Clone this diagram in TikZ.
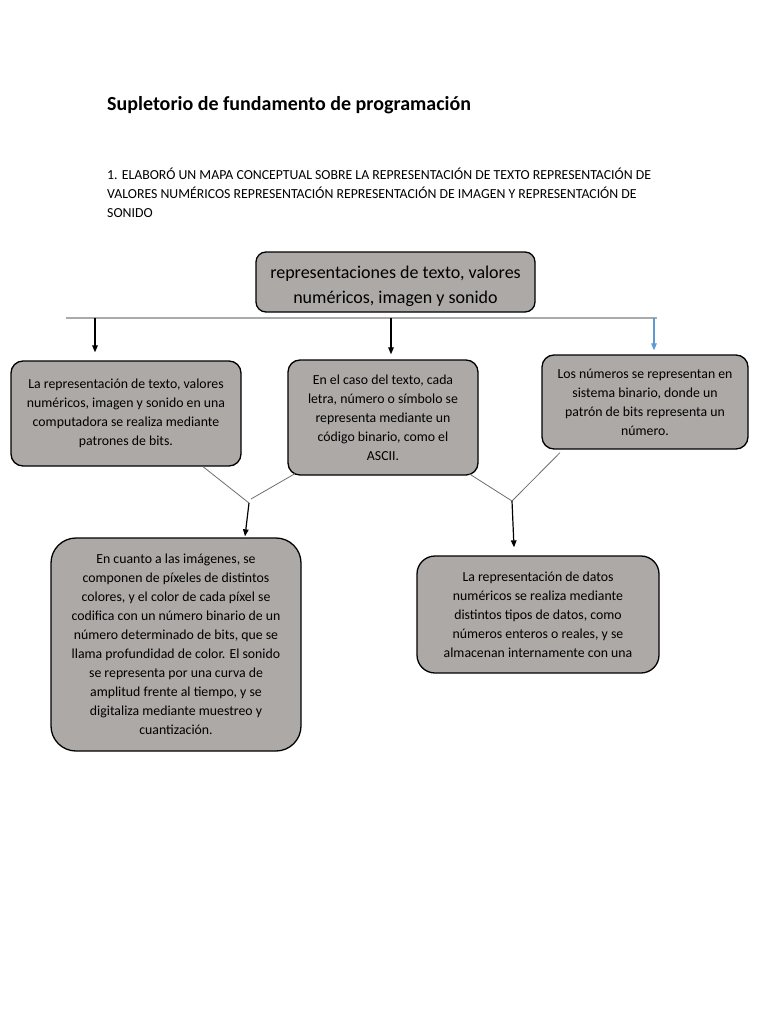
\documentclass[tikz,border=0pt]{standalone}
\usepackage{fontspec}
\setmainfont{Carlito}
\usepackage{xcolor}
\usepackage{tikz}
\usetikzlibrary{arrows.meta}
\definecolor{boxgray}{RGB}{172, 169, 167}
\definecolor{busgray}{RGB}{170, 170, 170}
\definecolor{linkgray}{RGB}{110, 110, 110}
\definecolor{niceblue}{RGB}{91, 155, 213}

\tikzset{
  cbox/.style = {draw = black, line width = 1.3pt, fill = boxgray, rounded corners = 12pt,
                 align = center, inner sep = 0pt,
                 font = \fontsize{13.8}{19}\selectfont},
  link/.style = {draw = linkgray, line width = 0.8pt},
  arr/.style = {draw = black, line width = 1.2pt, -{Triangle[length = 7pt, width = 5.5pt]}},
}

\begin{document}
\begin{tikzpicture}[x = 1pt, y = -1pt]
			\useasboundingbox (0,0) rectangle (768,1024);
			\node (title) at (107,105) [anchor = west, inner sep = 0pt, font = \fontsize{20}{24}\bfseries\selectfont] {Supletorio de fundamento de programación};
			\node (task) at (107,168) [anchor = north west, inner sep = 0pt, align = left, font = \fontsize{13.8}{19}\selectfont] {1. ELABORÓ UN MAPA CONCEPTUAL SOBRE LA REPRESENTACIÓN DE TEXTO REPRESENTACIÓN DE\\VALORES NUMÉRICOS REPRESENTACIÓN REPRESENTACIÓN DE IMAGEN Y REPRESENTACIÓN DE\\SONIDO};
			% main concept
			\node (main) at (395.5,282) [cbox, rounded corners = 10pt, minimum width = 279pt, minimum height = 60pt, font = \fontsize{18}{25}\selectfont] {\raisebox{-4pt}[\height][\depth]{\begin{tabular}{@{}c@{}}representaciones de texto, valores\\numéricos, imagen y sonido\end{tabular}}};
			% second row
			\node (bits) at (126,413.5) [cbox, minimum width = 230pt, minimum height = 105pt] {La representación de texto, valores\\numéricos, imagen y sonido en una\\computadora se realiza mediante\\patrones de bits.};
			\node (ascii) at (383,417.5) [cbox, minimum width = 190pt, minimum height = 115pt] {En el caso del texto, cada\\letra, número o símbolo se\\representa mediante un\\código binario, como el\\ASCII.};
			\node (binary) at (645,402) [cbox, minimum width = 206pt, minimum height = 94pt] {Los números se representan en\\sistema binario, donde un\\patrón de bits representa un\\número.};
			% third row
			\node (image) at (176,644.5) [cbox, rounded corners = 25pt, minimum width = 250pt, minimum height = 213pt] {En cuanto a las imágenes, se\\componen de píxeles de distintos\\colores, y el color de cada píxel se\\codifica con un número binario de un\\número determinado de bits, que se\\llama profundidad de color. El sonido\\se representa por una curva de\\amplitud frente al tiempo, y se\\digitaliza mediante muestreo y\\cuantización.};
			\node (data) at (538,614.5) [cbox, rounded corners = 18pt, minimum width = 242pt, minimum height = 117pt] {La representación de datos\\numéricos se realiza mediante\\distintos tipos de datos, como\\números enteros o reales, y se\\almacenan internamente con una};
			% bus under the main concept
			\coordinate (busl) at (66,318);
			\coordinate (busr) at (657,318);
			\coordinate (bus1) at (95,318);
			\coordinate (bus2) at (391,318);
			\coordinate (bus3) at (654,318);
			\draw [draw = busgray, line width = 1.2pt] (busl) -- (busr);
			\draw [arr] (bus1) -- ([xshift = -31pt, yshift = 8pt]bits.north);
			\draw [arr] (bus2) -- ([xshift = 8pt, yshift = 5pt]ascii.north);
			\draw [arr, draw = niceblue, fill = niceblue] (bus3) -- ([xshift = 9pt, yshift = 4pt]binary.north);
			% joins
			\coordinate (jl) at (249,503);
			\coordinate (jr) at (512,501);
			\draw [link] ([xshift = 77pt]bits.south) -- (jl);
			\draw [link] ([xshift = -88pt, yshift = 2pt]ascii.south) -- (251,499);
			\draw [link] ([xshift = 86pt, yshift = 2pt]ascii.south) -- (jr);
			\draw [link] ([xshift = -85pt, yshift = -3pt]binary.south) -- (jr);
			\draw [arr] (jl) -- ([xshift = 69pt, yshift = 1pt]image.north);
			\draw [arr] (jr) -- ([xshift = -24pt, yshift = 8pt]data.north);
			\end{tikzpicture}
\end{document}
